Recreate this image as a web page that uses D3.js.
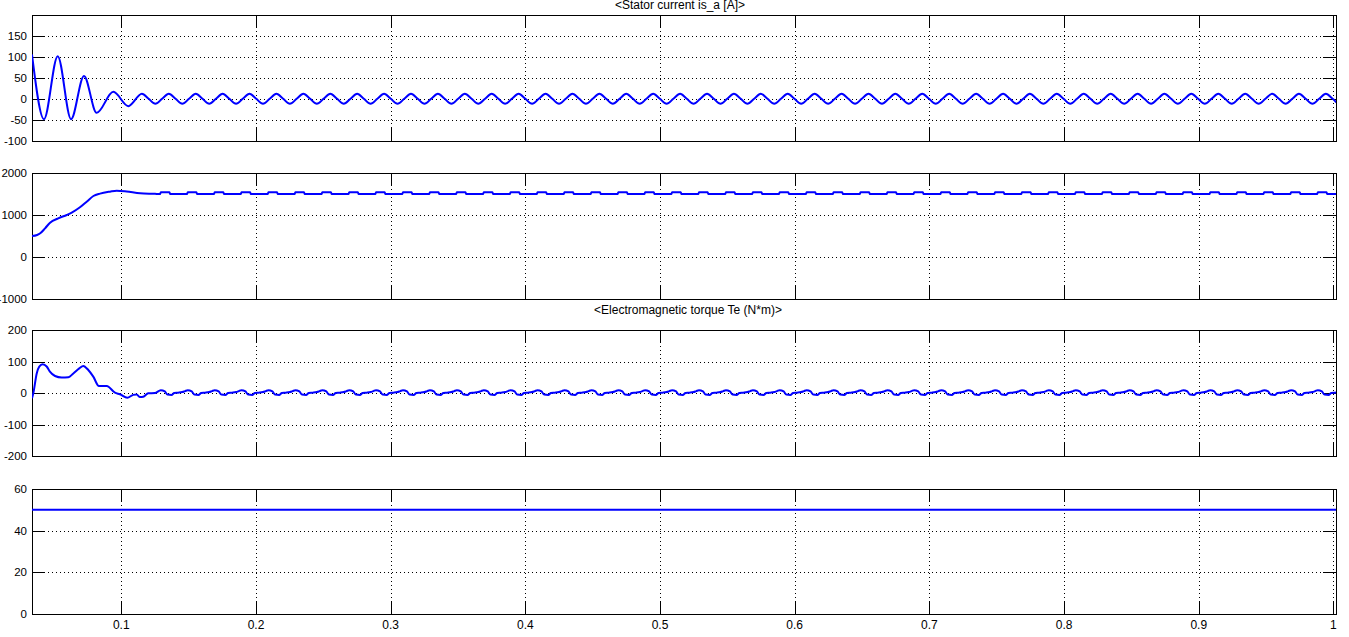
<!DOCTYPE html>
<html><head><meta charset="utf-8">
<script src="https://cdn.jsdelivr.net/npm/d3@7"></script>
<style>
body{margin:0;background:#fff}
svg{display:block}
text{font-family:"Liberation Sans Narrow","Arial Narrow","Liberation Sans",Arial,sans-serif;font-size:12px;fill:#000}
text.yl{font-size:11.5px}
</style>
</head><body>
<svg id="c" width="1349" height="637"></svg>
<script>
// ---------- data ----------
const timeDomain = [0.0337, 1.0019];
const xTickValues = [0.1,0.2,0.3,0.4,0.5,0.6,0.7,0.8,0.9,1];
const xTickLabels = ["0.1","0.2","0.3","0.4","0.5","0.6","0.7","0.8","0.9","1"];

const titles = ["<Stator current is_a [A]>", "", "<Electromagnetic torque Te (N*m)>", ""];

const currentDomain = [-100, 200];
const currentTicks = [-100, -50, 0, 50, 100, 150];
const speedDomain = [-1000, 2000];
const speedTicks = [-1000, 0, 1000, 2000];
const torqueDomain = [-200, 200];
const torqueTicks = [-200, -100, 0, 100, 200];
const freqDomain = [0, 60];
const freqTicks = [0, 20, 40, 60];

// start-up transients [t, value]
const currentTransient = [[0.0337,106],[0.0426,-48],[0.0528,102],[0.0627,-48],[0.0723,55],[0.0817,-33],[0.0941,17],[0.1052,-17]];
const speedTransient = [[0.0337,500],[0.0375,525],[0.0398,565],[0.0434,683],[0.0471,817],[0.0532,921],[0.0595,1000],[0.0632,1056],[0.0693,1183],[0.0743,1317],[0.0793,1452],[0.0842,1508],[0.0916,1556],[0.0966,1579],[0.1040,1560],[0.1140,1516],[0.1250,1505]];
const torqueTransient = [[0.0337,-17],[0.0347,0],[0.0372,62],[0.0391,84],[0.0416,91],[0.0446,84],[0.0470,68],[0.0508,54],[0.0557,49],[0.0607,50],[0.0644,62],[0.0688,78],[0.0718,86],[0.0755,73],[0.0792,52],[0.0834,22],[0.0892,22],[0.0953,1],[0.0990,-4],[0.1045,-15],[0.1089,-6],[0.1114,-5],[0.1139,-13],[0.1163,-12],[0.1200,-1],[0.1250,0]];

// steady-state ripple: cycle start times (current peaks)
const cycleStarts = [0.1153,0.1353,0.1553,0.1752,0.1952,0.2152,0.2352,0.2552,0.2751,0.2951,0.3151,0.3351,0.3551,0.3750,0.3950,0.4150,0.4350,0.4550,0.4749,0.4949,0.5149,0.5349,0.5549,0.5748,0.5948,0.6148,0.6348,0.6548,0.6747,0.6947,0.7147,0.7347,0.7547,0.7746,0.7946,0.8146,0.8346,0.8546,0.8745,0.8945,0.9145,0.9345,0.9545,0.9744,0.9944];
// ripple shape within one cycle [offset from cycle start, value]
const currentRipple = [[0,12.5],[0.005,0.5],[0.010,-11.5],[0.015,0.5]];
const speedRipple = [[0.0135,1500],[0.014,1540],[0.0205,1540],[0.021,1500]];
const torqueRipple = [[0.014,9],[0.017,5],[0.019,-5],[0.022,-6],[0.024,0],[0.027,1],[0.030,3],[0.032,6]];

const freqSeries = [[0.0337,50],[1.0019,50]];

// ---------- build ----------
function build(transient, ripple){
  const pts = transient.slice();
  const tEnd = transient[transient.length-1][0];
  cycleStarts.forEach(c => ripple.forEach(([dt,v]) => { if (c+dt > tEnd) pts.push([c+dt, v]); }));
  pts.sort((a,b)=>a[0]-b[0]);
  return pts;
}
const panels = [
  {top:15, bottom:141, domain:currentDomain, ticks:currentTicks, data:build(currentTransient,currentRipple), title:titles[0], tx:680, ty:9},
  {top:173, bottom:299, domain:speedDomain, ticks:speedTicks, data:build(speedTransient,speedRipple), title:titles[1]},
  {top:330, bottom:456, domain:torqueDomain, ticks:torqueTicks, data:build(torqueTransient,torqueRipple), title:titles[2], tx:688, ty:314},
  {top:489, bottom:614, domain:freqDomain, ticks:freqTicks, data:freqSeries, title:titles[3]}
];

const svg = d3.select("#c");
const left = 32, right = 1336;
const x = d3.scaleLinear().domain(timeDomain).range([left, right]);
const tickLen = 13;

panels.forEach((p, i) => {
  const y = d3.scaleLinear().domain(p.domain).range([p.bottom, p.top]);
  const g = svg.append("g");
  const clipId = "clip" + i;
  svg.append("clipPath").attr("id", clipId).append("rect")
    .attr("x", left).attr("y", p.top).attr("width", right-left).attr("height", p.bottom-p.top);

  // grid
  g.selectAll(".hg").data(p.ticks.filter(t => t!==p.domain[0] && t!==p.domain[1])).enter().append("line")
    .attr("x1", left).attr("x2", right)
    .attr("y1", d => Math.round(y(d))+0.5).attr("y2", d => Math.round(y(d))+0.5)
    .attr("stroke", "#000").attr("stroke-dasharray", "1,3");
  g.selectAll(".vg").data(xTickValues).enter().append("line")
    .attr("x1", d => Math.round(x(d))+0.5).attr("x2", d => Math.round(x(d))+0.5)
    .attr("y1", p.top).attr("y2", p.bottom)
    .attr("stroke", "#000").attr("stroke-dasharray", "1,3");

  // ticks
  p.ticks.forEach(t => {
    const yy = Math.round(y(t))+0.5;
    g.append("line").attr("x1", left).attr("x2", left+tickLen).attr("y1", yy).attr("y2", yy).attr("stroke","#000");
    g.append("line").attr("x1", right-tickLen).attr("x2", right).attr("y1", yy).attr("y2", yy).attr("stroke","#000");
    g.append("text").attr("class","yl").attr("x", 27).attr("y", y(t)).attr("dy","0.35em").attr("text-anchor","end").text(t);
  });
  xTickValues.forEach(t => {
    const xx = Math.round(x(t))+0.5;
    g.append("line").attr("x1", xx).attr("x2", xx).attr("y1", p.top).attr("y2", p.top+tickLen).attr("stroke","#000");
    g.append("line").attr("x1", xx).attr("x2", xx).attr("y1", p.bottom-tickLen).attr("y2", p.bottom).attr("stroke","#000");
  });

  // frame
  g.append("rect").attr("x", left+0.5).attr("y", p.top+0.5).attr("width", right-left).attr("height", p.bottom-p.top)
    .attr("fill","none").attr("stroke","#000");

  // line
  const line = d3.line().x(d => x(d[0])).y(d => y(d[1])).curve(d3.curveMonotoneX);
  g.append("path").datum(p.data).attr("d", line).attr("clip-path", `url(#${clipId})`)
    .attr("fill","none").attr("stroke","#0000ff").attr("stroke-width", 2);

  if (p.title) g.append("text").attr("x", p.tx).attr("y", p.ty).attr("text-anchor","middle").text(p.title);

  if (i === panels.length-1) {
    xTickValues.forEach((t, k) => {
      g.append("text").attr("x", x(t)).attr("y", 629).attr("text-anchor","middle").text(xTickLabels[k]);
    });
  }
});
</script>
</body></html>
